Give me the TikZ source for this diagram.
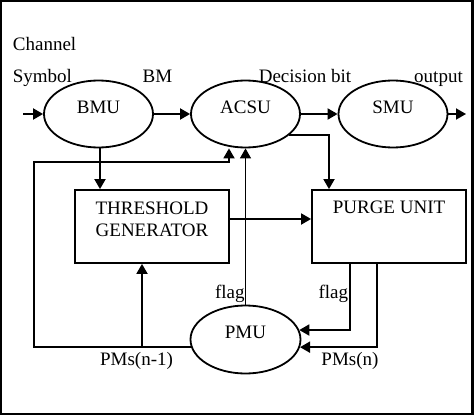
\documentclass[tikz,border=0pt]{standalone}
\usepackage{fontspec}
\setmainfont{Liberation Serif}
\usetikzlibrary{positioning,arrows.meta,shapes.geometric}

\begin{document}
\begin{tikzpicture}[x=1pt,y=-1pt,on grid,
line width=1.8pt,
font=\fontsize{19}{22.7}\selectfont,
arr/.style={-{Triangle[length=10pt,width=11pt]}},
unit/.style={ellipse,draw,minimum width=109pt,minimum height=67pt,text depth=14pt},
block/.style={draw,minimum width=154pt,minimum height=73pt},
lbl/.style={inner sep=0pt}]
\useasboundingbox (0,0) rectangle (474,420);
\draw[line width=2.4pt] (1.2,1.2) rectangle (472.6,414);
% units
\node[unit] (BMU) at (98.5,114) {BMU};
\node[unit] (ACSU) [right=147pt of BMU] {ACSU};
\node[unit] (SMU) [right=147.5pt of ACSU] {SMU};
\node[unit,minimum width=110pt,minimum height=68pt] (PMU) [below=225.5pt of ACSU] {PMU};
\node[block] (THR) at (152,226.5) {};
\node[block] (PURGE) [right=237pt of THR] {};
\node[lbl,anchor=north,align=center] (thrtxt) at (152,200.7) {THRESHOLD\\GENERATOR};
\node[lbl,anchor=base] (purgetxt) at (389,213.3) {PURGE UNIT};
% labels
\node[lbl,anchor=base west] (chan) at (12,51) {Channel};
\node[lbl,anchor=base west] (sym) at (12,82) {Symbol};
\node[lbl,anchor=base] (bm) at (157.5,82) {BM};
\node[lbl,anchor=base] (dec) at (305,82) {Decision bit};
\node[lbl,anchor=base] (outl) at (438.5,82) {output};
\node[lbl,anchor=base east] (flag1) at (245.5,298) {flag};
\node[lbl,anchor=base east] (flag2) at (349,298) {flag};
\node[lbl,anchor=base] (pmold) at (136.5,365) {PMs(n-1)};
\node[lbl,anchor=base] (pmnew) at (350,365) {PMs(n)};
% connectors
\coordinate (in) at (23,114);
\coordinate (out) at (466,114);
\coordinate (fb) at (34,162);
\draw[arr] (in) -- (BMU);
\draw[arr] (BMU) -- (ACSU);
\draw[arr] (ACSU) -- (SMU);
\draw[arr] (SMU) -- (out);
\draw[arr] (ACSU.-26) -| ([xshift=-60pt]PURGE.north);
\draw[arr] ([xshift=1.5pt]BMU.south) -- ([xshift=1.5pt]BMU.south |- THR.north);
\draw[arr] ([yshift=7.5pt]THR.east) -- ([yshift=7.5pt]THR.east -| PURGE.west);
\draw[arr] (PMU.188) -| (fb) -| ([xshift=-16.5pt]ACSU.south);
\draw[arr] ([xshift=-10pt]THR.south |- PMU.188) -- ([xshift=-10pt]THR.south);
\draw[arr,line width=1.2pt] (PMU.north) -- (ACSU.south);
\draw[arr] ([xshift=-39pt]PURGE.south) |- (PMU.10);
\draw[arr] ([xshift=-12pt]PURGE.south) |- (PMU.-8);
\end{tikzpicture}
\end{document}
